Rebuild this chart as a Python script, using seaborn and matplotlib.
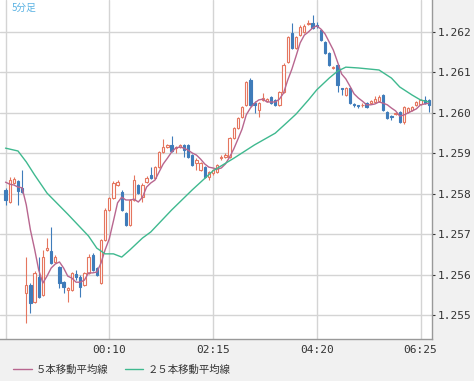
import numpy as np
import pandas as pd
import matplotlib
matplotlib.use('Agg')
import matplotlib.pyplot as plt
import seaborn as sns

sns.set_style('white')
plt.rcParams['font.family'] = ['DejaVu Sans Mono', 'Noto Sans CJK JP']

# ---- 5-minute OHLC bars (bar 0 = 22:05) ----
opens = [1.25809, 1.25779, 1.25826, 1.25831, 1.25814, 1.25554, 1.25574, 1.25532, 1.25594, 1.25549,
         1.25661, 1.25658, 1.25631, 1.25618, 1.25581, 1.25562, 1.25562, 1.25601, 1.25594, 1.25574,
         1.25604, 1.25648, 1.25616, 1.25579, 1.25685, 1.25759, 1.25789, 1.25821, 1.25804, 1.25752,
         1.25722, 1.25784, 1.25821, 1.25791, 1.25828, 1.25846, 1.25838, 1.25865, 1.25902, 1.25915,
         1.25920, 1.25912, 1.25915, 1.25920, 1.25920, 1.25895, 1.25875, 1.25858, 1.25865, 1.25841,
         1.25851, 1.25853, 1.25887, 1.25890, 1.25890, 1.25937, 1.25962, 1.25989, 1.26019, 1.26080,
         1.26023, 1.26006, 1.26031, 1.26028, 1.26038, 1.26031, 1.26019, 1.26051, 1.26125, 1.26196,
         1.26159, 1.26191, 1.26199, 1.26219, 1.26221, 1.26216, 1.26204, 1.26174, 1.26147, 1.26110,
         1.26117, 1.26060, 1.26043, 1.26060, 1.26021, 1.26019, 1.26019, 1.26023, 1.26023, 1.26026,
         1.26028, 1.26043, 1.26001, 1.25991, 1.25996, 1.26001, 1.25977, 1.26001, 1.26006, 1.26019,
         1.26021, 1.26031, 1.26031]
highs = [1.25814, 1.25841, 1.25841, 1.25833, 1.25858, 1.25643, 1.25579, 1.25609, 1.25643, 1.25661,
         1.25690, 1.25717, 1.25648, 1.25621, 1.25584, 1.25569, 1.25606, 1.25611, 1.25599, 1.25606,
         1.25651, 1.25653, 1.25618, 1.25688, 1.25764, 1.25791, 1.25831, 1.25833, 1.25809, 1.25754,
         1.25786, 1.25846, 1.25823, 1.25826, 1.25843, 1.25865, 1.25868, 1.25905, 1.25934, 1.25922,
         1.25942, 1.25917, 1.25922, 1.25922, 1.25922, 1.25897, 1.25887, 1.25878, 1.25868, 1.25856,
         1.25860, 1.25873, 1.25895, 1.25900, 1.25939, 1.25964, 1.25989, 1.26016, 1.26078, 1.26085,
         1.26028, 1.26026, 1.26048, 1.26036, 1.26041, 1.26033, 1.26053, 1.26122, 1.26189, 1.26221,
         1.26189, 1.26216, 1.26219, 1.26228, 1.26241, 1.26224, 1.26206, 1.26177, 1.26149, 1.26115,
         1.26120, 1.26060, 1.26063, 1.26063, 1.26023, 1.26019, 1.26023, 1.26026, 1.26031, 1.26041,
         1.26043, 1.26046, 1.26004, 1.25994, 1.26001, 1.26004, 1.26016, 1.26014, 1.26016, 1.26028,
         1.26033, 1.26041, 1.26033]
lows = [1.25772, 1.25777, 1.25823, 1.25772, 1.25801, 1.25480, 1.25505, 1.25530, 1.25542, 1.25547,
        1.25658, 1.25626, 1.25628, 1.25567, 1.25554, 1.25532, 1.25559, 1.25586, 1.25544, 1.25572,
        1.25601, 1.25609, 1.25596, 1.25576, 1.25683, 1.25757, 1.25786, 1.25818, 1.25757, 1.25720,
        1.25720, 1.25781, 1.25799, 1.25779, 1.25826, 1.25836, 1.25836, 1.25863, 1.25900, 1.25912,
        1.25902, 1.25900, 1.25912, 1.25890, 1.25887, 1.25868, 1.25858, 1.25856, 1.25838, 1.25833,
        1.25846, 1.25851, 1.25883, 1.25887, 1.25887, 1.25934, 1.25959, 1.25986, 1.26016, 1.26016,
        1.25999, 1.25989, 1.26028, 1.26026, 1.26021, 1.26016, 1.26016, 1.26048, 1.26122, 1.26157,
        1.26157, 1.26189, 1.26196, 1.26216, 1.26206, 1.26209, 1.26177, 1.26144, 1.26115, 1.26107,
        1.26051, 1.26043, 1.26041, 1.26021, 1.26014, 1.26011, 1.26014, 1.26011, 1.26021, 1.26023,
        1.26026, 1.26004, 1.25984, 1.25981, 1.25994, 1.25974, 1.25972, 1.25999, 1.26004, 1.26016,
        1.26019, 1.26021, 1.26001]
closes = [1.25784, 1.25833, 1.25836, 1.25806, 1.25804, 1.25574, 1.25530, 1.25604, 1.25544, 1.25643,
          1.25665, 1.25628, 1.25643, 1.25579, 1.25569, 1.25567, 1.25604, 1.25594, 1.25569, 1.25604,
          1.25643, 1.25611, 1.25599, 1.25685, 1.25759, 1.25789, 1.25826, 1.25828, 1.25759, 1.25722,
          1.25784, 1.25833, 1.25801, 1.25821, 1.25838, 1.25838, 1.25865, 1.25902, 1.25915, 1.25920,
          1.25905, 1.25915, 1.25920, 1.25907, 1.25890, 1.25870, 1.25883, 1.25875, 1.25841, 1.25853,
          1.25858, 1.25870, 1.25890, 1.25895, 1.25937, 1.25962, 1.25986, 1.26014, 1.26075, 1.26019,
          1.26019, 1.26023, 1.26036, 1.26033, 1.26023, 1.26019, 1.26051, 1.26117, 1.26186, 1.26159,
          1.26186, 1.26211, 1.26214, 1.26221, 1.26209, 1.26214, 1.26179, 1.26147, 1.26117, 1.26112,
          1.26068, 1.26058, 1.26060, 1.26023, 1.26019, 1.26016, 1.26019, 1.26014, 1.26028, 1.26033,
          1.26038, 1.26006, 1.25986, 1.25989, 1.25999, 1.25977, 1.26014, 1.26011, 1.26014, 1.26026,
          1.26031, 1.26023, 1.26019]

# ---- moving averages ----
ma5 = [1.25828, 1.25823, 1.25821, 1.25816, 1.25814, 1.25772, 1.25710, 1.25663, 1.25611, 1.25579,
       1.25596, 1.25616, 1.25626, 1.25631, 1.25616, 1.25596, 1.25591, 1.25581, 1.25581, 1.25586,
       1.25604, 1.25604, 1.25606, 1.25628, 1.25661, 1.25688, 1.25732, 1.25777, 1.25791, 1.25784,
       1.25784, 1.25786, 1.25779, 1.25791, 1.25816, 1.25826, 1.25833, 1.25853, 1.25873, 1.25887,
       1.25902, 1.25912, 1.25915, 1.25912, 1.25907, 1.25900, 1.25895, 1.25885, 1.25873, 1.25865,
       1.25863, 1.25860, 1.25863, 1.25873, 1.25890, 1.25910, 1.25934, 1.25959, 1.25994, 1.26011,
       1.26023, 1.26031, 1.26033, 1.26026, 1.26026, 1.26026, 1.26033, 1.26048, 1.26080, 1.26107,
       1.26139, 1.26172, 1.26191, 1.26199, 1.26209, 1.26214, 1.26206, 1.26194, 1.26174, 1.26154,
       1.26125, 1.26095, 1.26083, 1.26065, 1.26046, 1.26036, 1.26028, 1.26019, 1.26019, 1.26021,
       1.26026, 1.26023, 1.26019, 1.26011, 1.26004, 1.25991, 1.25994, 1.25999, 1.26004, 1.26009,
       1.26019, 1.26021, 1.26023]
ma25_bars = [0, 3, 5, 7, 10, 15, 20, 22, 24, 26, 28, 30, 33, 35, 40, 45, 50, 55, 60, 65,
             68, 70, 73, 75, 78, 80, 82, 85, 90, 93, 95, 98, 100, 102]
ma25 = [1.25912, 1.25905, 1.25878, 1.25846, 1.25801, 1.25749, 1.25695, 1.25665, 1.25651, 1.25651,
        1.25643, 1.25661, 1.25690, 1.25705, 1.25759, 1.25809, 1.25856, 1.25887, 1.25920, 1.25949,
        1.25977, 1.25996, 1.26031, 1.26056, 1.26085, 1.26102, 1.26112, 1.26110, 1.26105, 1.26085,
        1.26063, 1.26043, 1.26031, 1.26026]

grid_bars = [0, 25, 50, 75, 100]
time_labels = ['', '00:10', '02:15', '04:20', '06:25']
price_ticks = [1.255, 1.256, 1.257, 1.258, 1.259, 1.260, 1.261, 1.262]

df = pd.DataFrame({'open': opens, 'high': highs, 'low': lows, 'close': closes, 'ma5': ma5})
df['bar'] = np.arange(len(df))
df['up'] = df['close'] >= df['open']
df['bottom'] = df[['open', 'close']].min(axis=1)
df['height'] = (df['close'] - df['open']).abs()

RED = '#e5765f'
BLUE = '#3f7cba'

fig = plt.figure(figsize=(4.74, 3.81), dpi=100, facecolor='#f1f1f1')
ax = fig.add_axes([0, 41.7 / 381, 432 / 474, 339.3 / 381])
ax.set_facecolor('white')

# wicks
for up, col in [(True, RED), (False, BLUE)]:
    sub = df[df['up'] == up]
    ax.vlines(sub['bar'], sub['low'], sub['high'], color=col, lw=0.8, zorder=3)

# bodies
up_df = df[df['up']]
dn_df = df[~df['up']]
ax.bar(up_df['bar'], up_df['height'], bottom=up_df['bottom'], width=0.55,
       facecolor='white', edgecolor=RED, linewidth=0.8, zorder=4)
ax.bar(dn_df['bar'], dn_df['height'], bottom=dn_df['bottom'], width=0.55,
       facecolor=BLUE, edgecolor=BLUE, linewidth=0.8, zorder=4)

# moving averages
sns.lineplot(x=df['bar'], y=df['ma5'], ax=ax, color='#b8668f', lw=1,
             label='５本移動平均線', zorder=5)
sns.lineplot(x=ma25_bars, y=ma25, ax=ax, color='#3fb98f', lw=1,
             label='２５本移動平均線', zorder=5)

ax.set_xlim(-1.33, 102.77)
ax.set_ylim(1.2544, 1.262778)
ax.set_xticks(grid_bars)
ax.set_xticklabels(time_labels)
ax.set_yticks(price_ticks)
ax.set_yticklabels([f'{v:.3f}' for v in price_ticks])
ax.yaxis.tick_right()
ax.set_xlabel('')
ax.set_ylabel('')
ax.grid(True, color='#d4d4d4', lw=1)
ax.set_axisbelow(True)
ax.tick_params(axis='x', length=0, pad=4, labelsize=8, colors='#333333')
ax.tick_params(axis='y', length=2, pad=2, labelsize=8, colors='#333333')
for s in ['top', 'left']:
    ax.spines[s].set_visible(False)
for s in ['right', 'bottom']:
    ax.spines[s].set_color('#999999')
    ax.spines[s].set_linewidth(1)

h, l = ax.get_legend_handles_labels()
ax.get_legend().remove()
fig.legend(h, l, loc='center left', bbox_to_anchor=(13 / 474, 11 / 381), ncol=2,
           frameon=False, borderpad=0, borderaxespad=0, handlelength=1.8,
           handletextpad=0.35, columnspacing=1.6,
           prop={'family': ['Noto Sans CJK JP'], 'size': 7.5},
           labelcolor='#333333')

fig.text(12 / 474, 1 - 8 / 381, '5分足', color='#5ab2e3', fontsize=7,
         family=['Noto Sans CJK JP'], va='center', ha='left')

fig.savefig('out.png', dpi=100, facecolor=fig.get_facecolor())
